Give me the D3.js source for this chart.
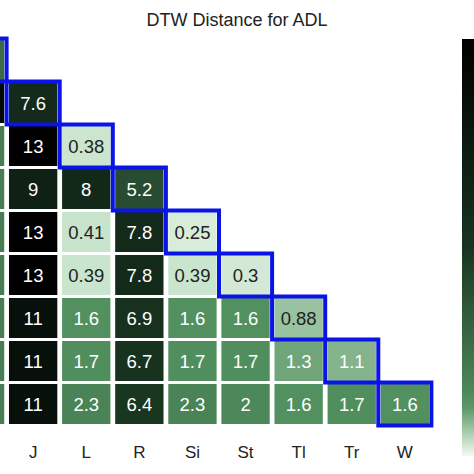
<!DOCTYPE html>
<html><head><meta charset="utf-8">
<script src="https://cdn.jsdelivr.net/npm/d3@7"></script>
<style>body{margin:0;background:#fff}svg{font-family:"Liberation Sans",Arial,sans-serif}</style>
</head><body><svg id="c" width="474" height="474"></svg>
<script>
const columns = ["", "J", "L", "R", "Si", "St", "Tl", "Tr", "W"];
const rowLabels = ["", "J", "L", "R", "Si", "St", "Tl", "Tr", "W"];
// lower-triangle values, row i has columns 0..i (first column partly off-canvas, estimated)
const values = [
  [3.5],
  [12, 7.6],
  [2.6, 13, 0.38],
  [2.6, 9, 8, 5.2],
  [2.6, 13, 0.41, 7.8, 0.25],
  [2.6, 13, 0.39, 7.8, 0.39, 0.3],
  [2.6, 11, 1.6, 6.9, 1.6, 1.6, 0.88],
  [2.6, 11, 1.7, 6.7, 1.7, 1.7, 1.3, 1.1],
  [2.6, 11, 2.3, 6.4, 2.3, 2, 1.6, 1.7, 1.6]
];
const svg = d3.select("#c");
const x = d3.scaleBand().domain(d3.range(columns.length)).range([-46.5, 431.4]).paddingInner(0.09).paddingOuter(0.045);
const y = d3.scaleBand().domain(d3.range(rowLabels.length)).range([38.5, 425.5]).paddingInner(0.07).paddingOuter(0.035);
const color = d3.scaleLinear().domain([0, 0.4, 1.6, 6.5, 13])
  .range(["#f2f9f2", "#c9e4cc", "#52905f", "#183420", "#000000"]);
const cells = [];
values.forEach((row, i) => row.forEach((v, j) => cells.push({i, j, v})));
svg.selectAll("rect.cell").data(cells).join("rect")
  .attr("x", d => x(d.j)).attr("y", d => y(d.i))
  .attr("width", x.bandwidth()).attr("height", y.bandwidth())
  .attr("fill", d => color(d.v));
svg.selectAll("text.val").data(cells.filter(d => d.j > 0)).join("text")
  .attr("x", d => x(d.j) + x.bandwidth() / 2).attr("y", d => y(d.i) + y.bandwidth() / 2)
  .attr("dy", "0.36em").attr("text-anchor", "middle").attr("font-size", 18.5)
  .attr("fill", d => d.v < 1 ? "#222" : "#fff").text(d => d.v);
// diagonal outlines
const diag = cells.filter(d => d.i === d.j);
const ox = x.step() * x.paddingInner() / 2, oy = y.step() * y.paddingInner() / 2;
svg.selectAll("rect.diag").data(diag).join("rect")
  .attr("x", d => x(d.j) - ox).attr("y", d => y(d.i) - oy)
  .attr("width", x.bandwidth() + 2 * ox).attr("height", y.bandwidth() + 2 * oy)
  .attr("fill", "none").attr("stroke", "#0a14e6").attr("stroke-width", 4);
// x axis labels
svg.selectAll("text.xl").data(columns.map((c, k) => ({c, k})).filter(d => d.c)).join("text")
  .attr("x", d => x(d.k) + x.bandwidth() / 2).attr("y", 458)
  .attr("text-anchor", "middle").attr("font-size", 17).attr("fill", "#222").text(d => d.c);
svg.append("text").attr("x", 237).attr("y", 26).attr("text-anchor", "middle")
  .attr("font-size", 18).attr("fill", "#222").text("DTW Distance for ADL");
// colorbar
const defs = svg.append("defs");
const g = defs.append("linearGradient").attr("id", "cb").attr("x1", 0).attr("x2", 0).attr("y1", 1).attr("y2", 0);
d3.range(0, 13.01, 0.5).forEach(v => g.append("stop").attr("offset", v / 13).attr("stop-color", color(v)));
svg.append("rect").attr("x", 462).attr("y", 39).attr("width", 14).attr("height", 417).attr("fill", "url(#cb)");
</script></body></html>
